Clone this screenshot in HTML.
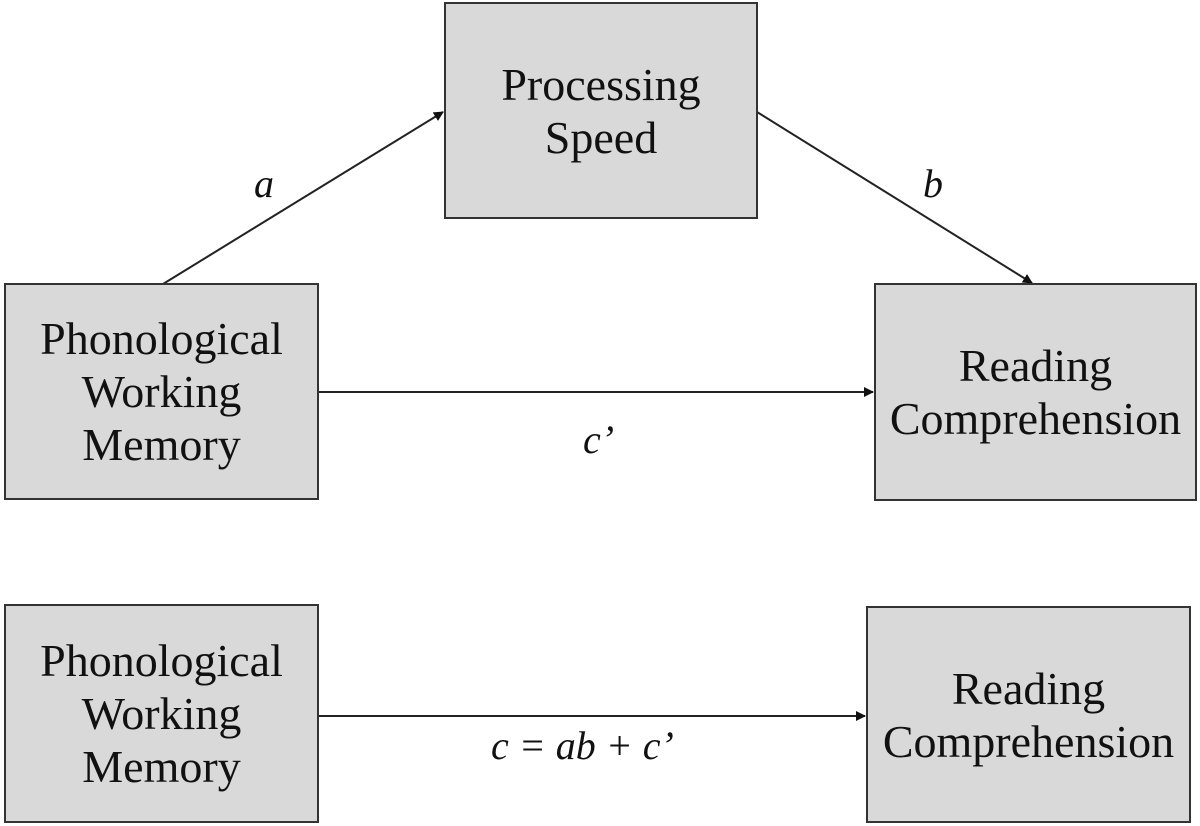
<!DOCTYPE html>
<html><head><style>
body{margin:0;background:#fff;width:1200px;height:826px;overflow:hidden;position:relative;font-family:"Liberation Serif",serif;}
.b{position:absolute;background:#d9d9d9;border:2px solid #333;box-sizing:border-box;display:flex;align-items:center;justify-content:center;text-align:center;font-size:46px;line-height:53px;color:#111;}
.l{position:absolute;font-style:italic;font-size:40px;color:#111;white-space:nowrap;}
svg{position:absolute;left:0;top:0;}
</style></head><body>
<svg width="1200" height="826">
<defs><marker id="m" markerWidth="10" markerHeight="10" refX="9" refY="5" orient="auto" markerUnits="userSpaceOnUse"><path d="M0,0 L10,5 L0,10 z" fill="#111"/></marker></defs>
<g stroke="#222" stroke-width="2">
<line x1="163" y1="284" x2="443" y2="112" marker-end="url(#m)"/>
<line x1="757" y1="112" x2="1032" y2="283" marker-end="url(#m)"/>
<line x1="318" y1="392" x2="873" y2="392" marker-end="url(#m)"/>
<line x1="318" y1="716" x2="865" y2="716" marker-end="url(#m)"/>
</g></svg>
<div class="b" style="left:444px;top:2px;width:314px;height:217px;">Processing<br>Speed</div>
<div class="b" style="left:4px;top:283px;width:315px;height:217px;">Phonological<br>Working<br>Memory</div>
<div class="b" style="left:874px;top:283px;width:323px;height:218px;">Reading<br>Comprehension</div>
<div class="b" style="left:4px;top:604px;width:315px;height:219px;">Phonological<br>Working<br>Memory</div>
<div class="b" style="left:866px;top:606px;width:325px;height:217px;">Reading<br>Comprehension</div>
<div class="l" style="left:254px;top:160px;">a</div>
<div class="l" style="left:923px;top:160px;">b</div>
<div class="l" style="left:583px;top:416px;">c’</div>
<div class="l" style="left:491px;top:722px;">c = ab + c’</div>
</body></html>
